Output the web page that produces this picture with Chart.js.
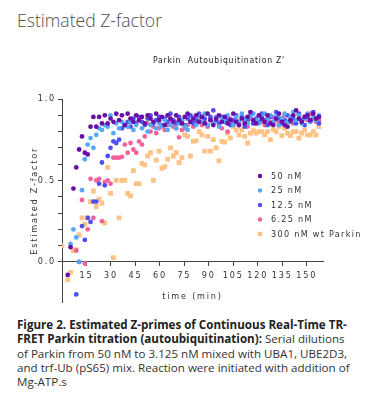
<!DOCTYPE html>
<html>
<head>
<meta charset="utf-8">
<script src="https://cdn.jsdelivr.net/npm/chart.js@4.4.0/dist/chart.umd.min.js"></script>
<style>
  html, body { margin: 0; padding: 0; background: #fff; }
  body { width: 379px; height: 413px; position: relative; overflow: hidden; }
  #heading { position: absolute; left: 17px; top: 11px; margin: 0; font-family: "Open Sans", sans-serif; font-weight: 300; font-size: 17.6px; line-height: 19px; color: #4d4d4d; white-space: nowrap; }
  #ctitle { position: absolute; left: 153px; top: 55px; font-family: "Liberation Sans Narrow", "DejaVu Sans Condensed", "Liberation Sans", sans-serif; font-size: 8.5px; line-height: 10px; letter-spacing: 0.8px; color: #222; white-space: nowrap; }
  #wrap { position: absolute; left: 0; top: 0; width: 379px; height: 310px; }
  #caption { position: absolute; left: 17px; top: 318px; font-family: "Open Sans", sans-serif; font-size: 11.6px; line-height: 14.3px; color: #333; white-space: nowrap; }
  #caption b { color: #222; font-weight: 700; }
</style>
</head>
<body>
<div id="heading">Estimated Z-factor</div>
<div id="wrap"><canvas id="c" width="379" height="310"></canvas></div>
<div id="ctitle">Parkin&nbsp; Autoubiquitination Z'</div>
<div id="caption"><b>Figure 2. Estimated Z-primes of Continuous Real-Time TR-<br>FRET Parkin titration (autoubiquitination):</b> Serial dilutions<br>of Parkin from 50 nM to 3.125 nM mixed with UBA1, UBE2D3,<br>and trf-Ub (pS65) mix. Reaction were initiated with addition of<br>Mg-ATP.s</div>
<script>
// ---- data (time in minutes, estimated Z' values) ----
const times = [0, 1.75, 3.5, 5.25, 7, 8.75, 10.5, 12.25, 14, 15.75,
  17.5, 19.25, 21, 22.75, 24.5, 26.25, 28, 29.75, 31.5, 33.25,
  35, 36.75, 38.5, 40.25, 42, 43.75, 45.5, 47.25, 49, 50.75,
  52.5, 54.25, 56, 57.75, 59.5, 61.25, 63, 64.75, 66.5, 68.25,
  70, 71.75, 73.5, 75.25, 77, 78.75, 80.5, 82.25, 84, 85.75,
  87.5, 89.25, 91, 92.75, 94.5, 96.25, 98, 99.75, 101.5, 103.25,
  105, 106.75, 108.5, 110.25, 112, 113.75, 115.5, 117.25, 119, 120.75,
  122.5, 124.25, 126, 127.75, 129.5, 131.25, 133, 134.75, 136.5, 138.25,
  140, 141.75, 143.5, 145.25, 147, 148.75, 150.5, 152.25, 154, 155.75, 157.5];

const seriesLabels = ["50 nM", "25 nM", "12.5 nM", "6.25 nM", "300 nM wt Parkin"];

const nM50 = [null, null, -0.08, 0.09, 0.45, 0.58, 0.69, 0.77, 0.67, 0.66,
  0.83, 0.89, 0.83, 0.89, 0.85, 0.90, 0.85, 0.88, 0.86, 0.91,
  0.87, 0.90, 0.84, 0.91, 0.88, 0.86, 0.90, 0.87, 0.89, 0.85,
  0.90, 0.88, 0.86, 0.91, 0.87, 0.89, 0.84, 0.90, 0.88, 0.86,
  0.90, 0.87, 0.85, 0.89, 0.91, 0.86, 0.88, 0.90, 0.86, 0.89,
  0.85, 0.91, 0.87, 0.84, 0.88, 0.90, 0.86, 0.89, 0.85, 0.87,
  0.91, 0.86, 0.84, 0.88, 0.85, 0.89, 0.92, 0.87, 0.85, 0.90,
  0.88, 0.86, 0.90, 0.85, 0.84, 0.88, 0.91, 0.86, 0.84, 0.83,
  0.87, 0.90, 0.93, 0.88, 0.86, 0.89, 0.90, 0.87, 0.91, 0.88, 0.89];

const nM25 = [null, null, null, 0.11, 0.20, 0.15, 0.00, 0.44, 0.63, 0.72,
  0.76, 0.70, 0.78, 0.82, 0.81, 0.84, 0.83, 0.90, 0.79, 0.85,
  0.82, 0.86, 0.84, 0.83, 0.86, 0.81, 0.84, 0.87, 0.82, 0.85,
  0.80, 0.84, 0.86, 0.82, 0.85, 0.83, 0.87, 0.81, 0.84, 0.86,
  0.82, 0.85, 0.87, 0.83, 0.81, 0.86, 0.88, 0.84, 0.89, 0.86,
  0.91, 0.84, 0.87, 0.85, 0.89, 0.83, 0.88, 0.86, 0.90, 0.87,
  0.84, 0.89, 0.86, 0.91, 0.88, 0.85, 0.89, 0.91, 0.87, 0.85,
  0.89, 0.91, 0.87, 0.90, 0.86, 0.89, 0.84, 0.88, 0.91, 0.86,
  0.89, 0.92, 0.87, 0.90, 0.85, 0.88, 0.91, 0.86, 0.89, 0.87, 0.90];

const nM12 = [null, null, null, null, null, -0.20, 0.00, 0.22, 0.135, 0.27,
  0.245, 0.37, 0.37, 0.48, 0.61, 0.47, 0.65, 0.70, 0.74, 0.73,
  0.75, 0.82, 0.84, 0.86, 0.83, 0.88, 0.85, 0.89, 0.86, 0.84,
  0.88, 0.90, 0.85, 0.87, 0.89, 0.84, 0.88, 0.86, 0.91, 0.87,
  0.85, 0.89, 0.87, 0.84, 0.88, 0.90, 0.85, 0.87, 0.91, 0.86,
  0.88, 0.84, 0.89, 0.93, 0.87, 0.85, 0.89, 0.86, 0.88, 0.84,
  0.87, 0.90, 0.86, 0.89, 0.83, 0.87, 0.90, 0.85, 0.88, 0.86,
  0.91, 0.87, 0.84, 0.89, 0.86, 0.92, 0.88, 0.85, 0.87, 0.90,
  0.86, 0.88, 0.85, 0.91, 0.87, 0.84, 0.89, 0.86, 0.92, 0.88, 0.85];

const nM6 = [null, null, null, null, null, 0.07, null, 0.38, -0.01, 0.20,
  0.51, 0.27, 0.50, 0.51, 0.25, 0.49, 0.50, 0.48, 0.64, 0.64,
  0.64, 0.645, 0.72, 0.67, 0.73, 0.69, 0.67, 0.74, 0.72, 0.77,
  0.85, 0.80, 0.83, 0.79, 0.82, 0.84, 0.81, 0.84, 0.87, 0.83,
  0.82, 0.765, 0.81, 0.82, 0.84, 0.86, 0.83, 0.85, 0.87, 0.84,
  0.86, 0.83, 0.88, 0.85, 0.87, 0.84, 0.82, 0.86, 0.80, 0.88,
  0.85, 0.87, 0.84, 0.89, 0.86, 0.83, 0.88, 0.85, 0.87, 0.90,
  0.86, 0.84, 0.88, 0.86, 0.89, 0.87, 0.85, 0.88, 0.90, 0.86,
  0.88, 0.85, 0.87, 0.90, 0.86, 0.89, 0.87, 0.91, 0.88, 0.86, 0.87];

const wt300 = [0.10, null, -0.11, -0.065, 0.07, 0.075, 0.165, 0.27, 0.23, 0.27,
  0.37, 0.435, 0.34, 0.385, 0.36, 0.24, 0.58, 0.42, 0.026, 0.50,
  0.27, 0.50, 0.50, 0.42, 0.405, 0.56, 0.48, 0.48, 0.605, 0.595,
  0.65, 0.67, 0.50, 0.625, 0.68, 0.575, 0.585, 0.63, 0.70, 0.65,
  0.67, 0.61, 0.64, 0.78, 0.77, 0.65, 0.74, 0.745, 0.80, 0.78,
  0.68, 0.77, 0.68, 0.75, 0.70, 0.62, 0.74, 0.735, 0.79, 0.76,
  0.83, 0.81, 0.78, 0.81, 0.77, 0.73, 0.79, 0.805, 0.79, 0.80,
  0.80, 0.78, 0.80, 0.75, 0.81, 0.80, 0.83, 0.775, 0.82, 0.79,
  0.775, 0.80, 0.80, 0.76, 0.79, 0.81, 0.78, 0.78, 0.80, 0.78, 0.83];

const xTickValues = [15, 30, 45, 60, 75, 90, 105, 120, 135, 150];
const yTickLabels = [0.0, 0.5, 1.0];

// ---- styling ----
const FONT = '"Liberation Sans Narrow", "DejaVu Sans Condensed", "Liberation Sans", sans-serif';
const SPACING = '1.8px';
const LEGEND_SPACING = '1.3px';
const colors = ['#6a0ea8', '#55a8f7', '#4f4ff2', '#f0639b', '#ffc285'];
const styles = ['circle', 'circle', 'circle', 'circle', 'rect'];
const allSeries = [nM50, nM25, nM12, nM6, wt300];

const toPoints = arr => times.map((t, i) => ({ x: t, y: arr[i] })).filter(p => p.y !== null);

const datasets = allSeries.map((arr, i) => ({
  label: seriesLabels[i],
  data: toPoints(arr),
  pointStyle: styles[i],
  pointRadius: styles[i] === 'rect' ? 3.4 : 2.4,
  pointHoverRadius: 3,
  pointBorderWidth: 0,
  borderWidth: 0,
  backgroundColor: colors[i],
  borderColor: colors[i]
}));

const spacingPlugin = {
  id: 'spacing',
  beforeInit(chart) { chart.ctx.letterSpacing = SPACING; },
  beforeUpdate(chart) { chart.ctx.letterSpacing = SPACING; },
  beforeLayout(chart) { chart.ctx.letterSpacing = SPACING; },
  beforeDraw(chart) { chart.ctx.letterSpacing = SPACING; }
};

const legendPlugin = {
  id: 'insideLegend',
  afterDatasetsDraw(chart) {
    const { ctx, chartArea } = chart;
    ctx.save();
    ctx.letterSpacing = LEGEND_SPACING;
    ctx.font = '9px ' + FONT;
    ctx.textBaseline = 'middle';
    ctx.textAlign = 'left';
    chart.data.datasets.forEach((ds, i) => {
      const x = chartArea.left + 198;
      const y = chartArea.top + 77 + i * 14.5;
      ctx.fillStyle = ds.backgroundColor;
      if (ds.pointStyle === 'rect') {
        ctx.fillRect(x - 2.2, y - 2.2, 4.4, 4.4);
      } else {
        ctx.beginPath();
        ctx.arc(x, y, 2.2, 0, Math.PI * 2);
        ctx.fill();
      }
      ctx.fillStyle = '#333';
      ctx.fillText(ds.label, x + 11, y + 0.5);
    });
    ctx.restore();
  }
};

new Chart(document.getElementById('c'), {
  type: 'scatter',
  data: { datasets },
  options: {
    responsive: false,
    animation: false,
    devicePixelRatio: 1,
    layout: { padding: { top: 99, left: 23, right: 56, bottom: 7 } },
    plugins: {
      legend: { display: false },
      title: { display: false },
      tooltip: { enabled: false }
    },
    scales: {
      x: {
        type: 'linear',
        axis: 'x',
        position: { y: 0 },
        min: 0,
        max: 160,
        afterBuildTicks: scale => { scale.ticks = [0].concat(xTickValues).map(v => ({ value: v })); },
        ticks: {
          autoSkip: false,
          maxRotation: 0,
          padding: 4,
          color: '#333',
          font: { family: FONT, size: 9 },
          callback: v => (xTickValues.includes(v) ? String(v) : '')
        },
        grid: { drawOnChartArea: false, drawTicks: true, tickLength: 4, color: '#444' },
        border: { display: true, color: '#444', width: 1 },
        title: { display: true, text: 'time (min)', color: '#333', font: { family: FONT, size: 9 }, padding: { top: 7, bottom: 0 } }
      },
      y: {
        type: 'linear',
        position: 'left',
        min: -0.25,
        max: 1.0,
        afterFit: scale => { scale.width = 39; },
        ticks: {
          stepSize: 0.1,
          autoSkip: false,
          padding: 2,
          color: '#333',
          font: { family: FONT, size: 9 },
          callback: v => {
            const r = Math.round(v * 10) / 10;
            return yTickLabels.some(t => Math.abs(t - r) < 1e-6) && Math.abs(v - r) < 1e-6 ? r.toFixed(1) : '';
          }
        },
        grid: {
          drawOnChartArea: false,
          drawTicks: true,
          tickLength: 4,
          color: c => (c.tick && c.tick.value > -0.001 ? '#444' : 'rgba(0,0,0,0)')
        },
        border: { display: true, color: '#444', width: 1 },
        title: { display: true, text: 'Estimated Z-factor', color: '#333', font: { family: FONT, size: 9 }, padding: { top: 6, bottom: 2 } }
      }
    }
  },
  plugins: [spacingPlugin, legendPlugin]
});
</script>
</body>
</html>
